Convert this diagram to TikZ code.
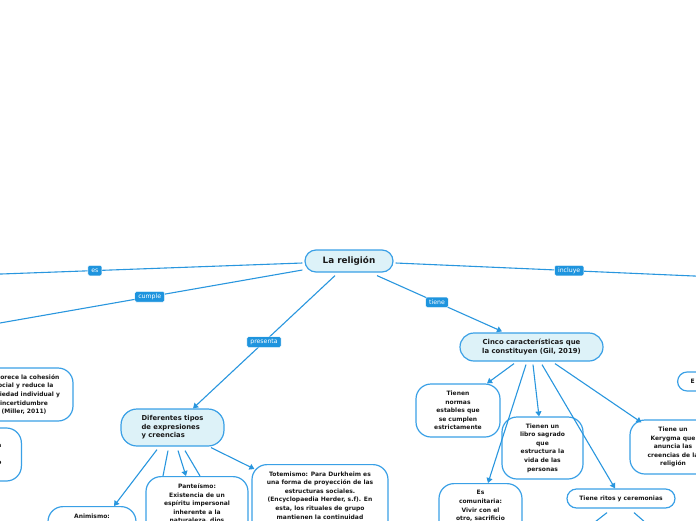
\documentclass[tikz,border=0pt]{standalone}
\usepackage{fontspec}
\setmainfont{DejaVu Sans}
\usetikzlibrary{arrows.meta}
\definecolor{edgeblue}{RGB}{41,150,222}
\definecolor{nodeblue}{RGB}{58,160,230}
\definecolor{lightfill}{RGB}{221,242,248}
\definecolor{lblfill}{RGB}{30,148,222}
\definecolor{txt}{RGB}{25,25,25}
\begin{document}
\begin{tikzpicture}[x=1pt,y=-1pt,
  conn/.style={draw=edgeblue, line width=1.1pt},
  arr/.style={conn, -{Triangle[length=5pt,width=6pt]}},
  lbl/.style={fill=lblfill, draw=white, line width=0.4pt, text=white, rounded corners=1.5pt,
    font=\fontsize{6.2}{7}\selectfont, inner xsep=3.5pt, inner ysep=0pt, minimum height=10.5pt},
  mainbox/.style={draw=nodeblue, line width=1.2pt, fill=lightfill, text=txt,
    font=\bfseries\fontsize{6.9}{9}\selectfont, align=center},
  subbase/.style={draw=nodeblue, line width=1.2pt, fill=white, text=txt,
    font=\bfseries\fontsize{6}{8.6}\selectfont},
  subbox/.style={subbase, align=center},
  cutbox/.style={subbase, anchor=north, rounded corners=15pt, inner xsep=0pt, inner ysep=7pt},
]
\clip (0,0) rectangle (696,520);

% main nodes
\node[mainbox, rounded corners=11pt, minimum width=88pt, minimum height=22pt,
  font=\bfseries\fontsize{8.8}{10}\selectfont] (rel) at (349,261) {La religión};
\node[mainbox, rounded corners=14pt, minimum width=143pt, minimum height=28pt] (cinco) at (531.5,347)
  {Cinco características que\\la constituyen (Gil, 2019)};
\node[mainbox, rounded corners=16pt, minimum width=103pt, minimum height=37pt, align=left,
  font=\bfseries\fontsize{6.8}{8.4}\selectfont] (dif) at (172.5,427.5)
  {Diferentes tipos\\de expresiones\\y creencias};

% sub nodes
\node[subbox, rounded corners=15pt, minimum width=98pt, minimum height=53pt] (fav) at (24,394.5)
  {Favorece la cohesión\\social y reduce la\\ansiedad individual y\\incertidumbre\\(Miller, 2011)};
\node[subbase, rounded corners=15pt, anchor=east, minimum height=53pt, text width=60pt,
  align=right, inner xsep=20pt] (left2) at (22,454.5) {a\\~\\o};
\node[subbox, rounded corners=15pt, minimum width=84pt, minimum height=53pt] (normas) at (458,410.5)
  {Tienen\\normas\\estables que\\se cumplen\\estrictamente};
\node[subbox, rounded corners=15pt, minimum width=81pt, minimum height=62pt] (libro) at (542.5,448)
  {Tienen un\\libro sagrado\\que\\estructura la\\vida de las\\personas};
\node[subbox, rounded corners=15pt, minimum width=86pt, minimum height=54pt] (keryg) at (673,447)
  {Tiene un\\Kerygma que\\anuncia las\\creencias de la\\religión};
\node[subbox, rounded corners=9.5pt, minimum width=108pt, minimum height=19pt] (ritos) at (621,498.5)
  {Tiene ritos y ceremonias};
\node[subbase, rounded corners=9.5pt, anchor=west, minimum height=19pt, text width=40pt,
  align=left, inner xsep=13pt] (enode) at (677,381.5) {E};

% nodes cut by the lower edge
\node[cutbox] (comun) at (480.5,483)
  {\parbox[t][60pt][t]{83pt}{\centering Es\\comunitaria:\\Vivir con el\\otro, sacrificio}};
\node[cutbox] (anim) at (92,506)
  {\parbox[t][60pt][t]{88pt}{\centering Animismo:}};
\node[cutbox] (pant) at (197,476)
  {\parbox[t][60pt][t]{102pt}{\centering Panteísmo:\\Existencia de un\\espíritu impersonal\\inherente a la\\naturaleza, dios}};
\node[cutbox] (totem) at (320,464)
  {\parbox[t][70pt][t]{136pt}{\centering Totemismo: Para Durkheim es\\una forma de proyección de las\\estructuras sociales.\\(Encyclopaedia Herder, s.f). En\\esta, los rituales de grupo\\mantienen la continuidad}};

% free ends
\coordinate (esEnd) at (-40,275.5);
\coordinate (cumpleEnd) at (-40,330);
\coordinate (inclEnd) at (740,278);
\coordinate (ritoA) at (572,540);
\coordinate (ritoB) at (665.5,540);

% connectors from La religión
\draw[conn] ([shift={(-2,2)}]rel.west) -- node[lbl, pos=0.606] {es} (esEnd);
\draw[conn] ([shift={(-2,9)}]rel.west) -- node[lbl, pos=0.446] {cumple} (cumpleEnd);
\draw[conn] ([shift={(2,2)}]rel.east) -- node[lbl, pos=0.504] {incluye} (inclEnd);
\draw[arr] ([shift={(-14,3)}]rel.south) -- node[lbl, pos=0.5] {presenta} ([shift={(20.5,0)}]dif.north);
\draw[arr] ([shift={(28,3)}]rel.south) -- node[lbl, pos=0.48] {tiene} ([shift={(-29.5,-1)}]cinco.north);

% from Cinco características
\draw[arr] ([shift={(-17.5,2)}]cinco.south) -- ([shift={(29,0)}]normas.north);
\draw[arr] ([shift={(-5.5,3)}]cinco.south) -- ([shift={(7.5,0)}]comun.north);
\draw[arr] ([shift={(1.5,3)}]cinco.south) -- ([shift={(-3.5,0)}]libro.north);
\draw[arr] ([shift={(10.5,3)}]cinco.south) -- ([shift={(-6,0)}]ritos.north);
\draw[arr] ([shift={(23.5,2)}]cinco.south) -- ([shift={(12,3)}]keryg.north west);

% from Diferentes tipos
\draw[arr] ([shift={(-15.5,3)}]dif.south) -- ([shift={(22,0)}]anim.north);
\draw[conn] ([shift={(-4.5,4)}]dif.south) -- ([shift={(-34,0)}]pant.north);
\draw[arr] ([shift={(5.5,4)}]dif.south) -- ([shift={(-11,0)}]pant.north);
\draw[conn] ([shift={(12.5,4)}]dif.south) -- ([shift={(3,0)}]pant.north);
\draw[arr] ([shift={(38.5,1)}]dif.south) -- ([shift={(3,5)}]totem.north west);

% from ritos
\draw[conn] ([shift={(-14,4)}]ritos.south) -- (ritoA);
\draw[conn] ([shift={(13,4)}]ritos.south) -- (ritoB);
\end{tikzpicture}
\end{document}
